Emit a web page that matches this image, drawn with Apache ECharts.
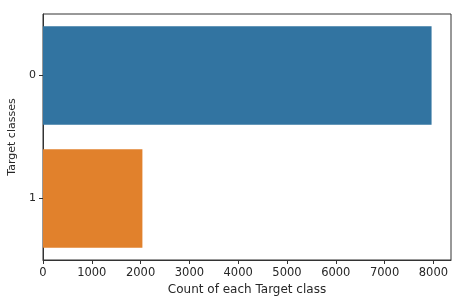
<!DOCTYPE html>
<html>
<head>
<meta charset="utf-8">
<script src="https://cdn.jsdelivr.net/npm/echarts@6/dist/echarts.min.js"></script>
<style>
  html, body { margin: 0; padding: 0; background: #fff; }
  #chart { width: 474px; height: 305px; }
</style>
</head>
<body>
<div id="chart"></div>
<script>
// target classes and their counts
const classes = ["0", "1"];
const counts = [7963, 2037];
const countTicks = [0, 1000, 2000, 3000, 4000, 5000, 6000, 7000, 8000];

// seaborn default (desaturated) palette
const palette = ["#3274a1", "#e1812c"];
const ink = "#262626";

const chart = echarts.init(document.getElementById("chart"));

const option = {
  animation: false,
  backgroundColor: "#fff",
  grid: {
    left: 43,
    right: 23,
    top: 14,
    bottom: 45,
    containLabel: false,
    outerBoundsMode: "none",
    show: true,
    borderColor: "#333",
    borderWidth: 1,
  },
  xAxis: {
    type: "value",
    min: 0,
    max: Math.max(...counts) * 1.05, // same padding seaborn adds
    interval: 1000,
    name: "Count of each Target class",
    nameLocation: "middle",
    nameGap: 23,
    nameTextStyle: { color: ink, fontSize: 12, fontFamily: "DejaVu Sans" },
    axisLine: { show: true, lineStyle: { color: "#333", width: 1 } },
    axisTick: { show: true, length: 4, lineStyle: { color: "#333" }, customValues: countTicks },
    axisLabel: {
      color: ink,
      fontSize: 11.5,
      fontFamily: "DejaVu Sans",
      margin: 7,
      customValues: countTicks,
      formatter: (v) => String(v),
    },
    splitLine: { show: false },
  },
  yAxis: {
    type: "category",
    data: classes,
    inverse: true,
    name: "Target classes",
    nameLocation: "middle",
    nameRotate: 90,
    nameGap: 25,
    nameTextStyle: { color: ink, fontSize: 11, fontFamily: "DejaVu Sans" },
    axisLine: { show: true, lineStyle: { color: "#333", width: 1 } },
    axisTick: { show: true, alignWithLabel: true, length: 4, lineStyle: { color: "#333" } },
    axisLabel: { color: ink, fontSize: 11, fontFamily: "DejaVu Sans", margin: 7 },
    splitLine: { show: false },
  },
  series: [
    {
      type: "bar",
      data: counts,
      barCategoryGap: "20%",
      itemStyle: {
        color: (p) => palette[p.dataIndex],
      },
    },
  ],
};

chart.setOption(option);
</script>
</body>
</html>
